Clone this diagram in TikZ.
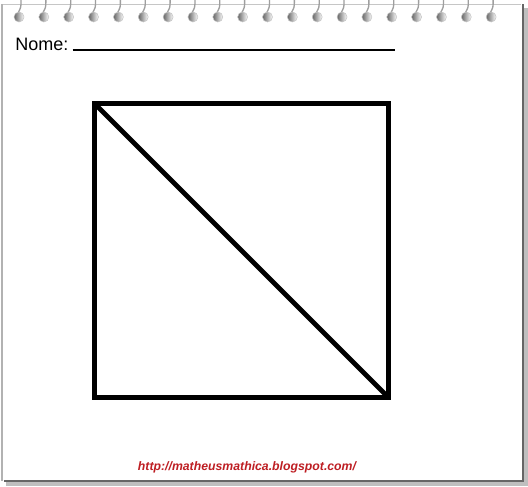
\documentclass[tikz,border=0pt]{standalone}
\usepackage{fontspec}
\setmainfont{Liberation Sans}
\definecolor{urlred}{RGB}{190,30,35}

\begin{document}
\begin{tikzpicture}[x=0.75pt,y=-0.75pt]
    \def \n {20}
    \def \gap {24.85} % distance between two rings, in pixels
    \def \first {21}
    \useasboundingbox (0,0) rectangle (528,486);
    \fill[white] (0,0) rectangle (528,486);
    % sheet edges
    \draw[gray!45, line width=0.6pt] (2,4) -- (521,4);
    \draw[gray!60, line width=0.8pt] (2,4) -- (2,481);
    \draw[black!25, line width=3pt] (6,484) -- (526,484) -- (526,8);
    \draw[black!60, line width=1.8pt] (4,481) -- (523,481) -- (523,4);
    % rings
    \foreach \s in {1,...,\n}
    {
      \coordinate (top\s) at ({\first + \gap*(\s-1)}, 0);
      \draw[gray!75, line width=1pt] (top\s) .. controls +(0,8) and +(3,-6) .. ++(-3,13);
      \shade[left color=black!60, right color=white, draw=gray!45, line width=0.4pt]
        ({\first + \gap*(\s-1) - 2}, 17) circle (5);
    }
    % name line
    \node[anchor=base west, inner sep=0pt, font=\fontsize{13.5}{16}\selectfont] (nome) at (15,50) {Nome:};
    \coordinate (lineend) at (395,50);
    \draw[line width=2pt] ([xshift=3pt]nome.base east) -- (lineend);
    % square with its diagonal
    \coordinate (A) at (94.5,103.5);
    \coordinate (B) at (388,103.5);
    \coordinate (C) at (388,397);
    \coordinate (D) at (94.5,397);
    \draw[line width=3.75pt, line join=miter] (A) -- (B) -- (C) -- (D) -- cycle;
    \draw[line width=3.5pt] (A) -- (C);
    % blog address
    \node[text=urlred, inner sep=0pt, font=\fontsize{9.2}{11}\selectfont\bfseries\itshape] (url) at (247,467) {http://matheusmathica.blogspot.com/};
\end{tikzpicture}
\end{document}
